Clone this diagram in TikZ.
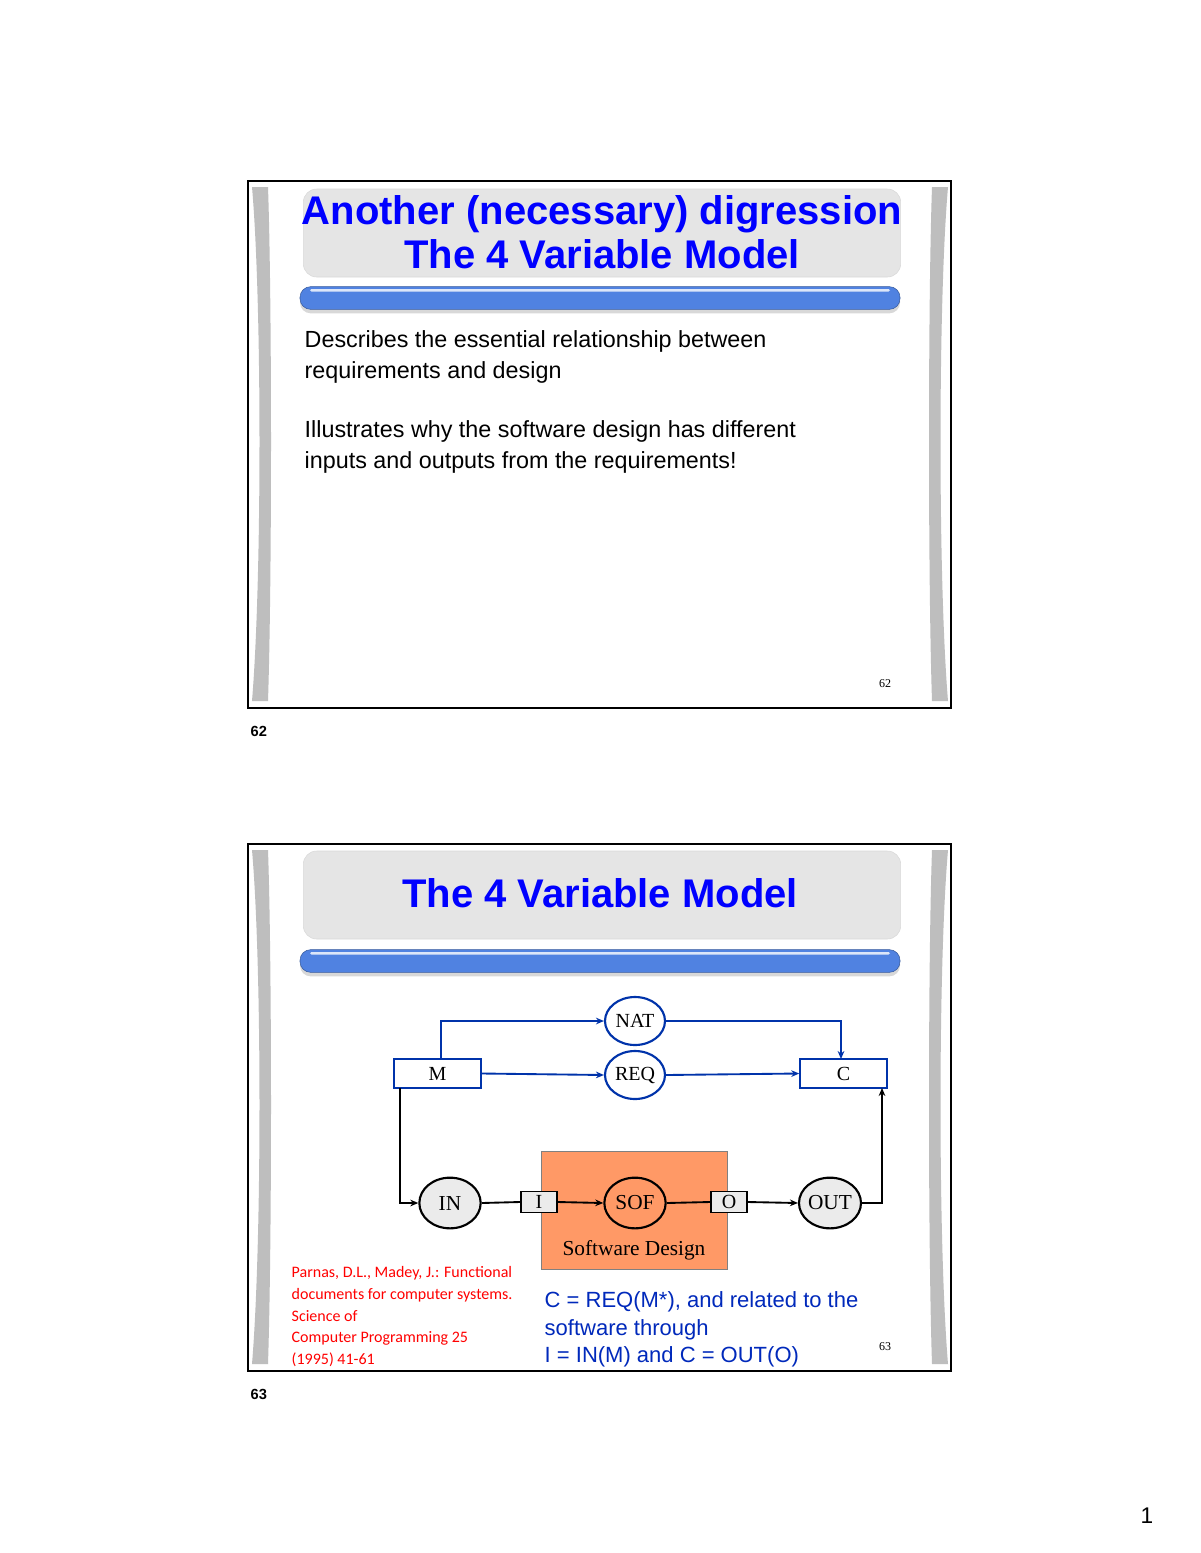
\documentclass[tikz,border=0pt]{standalone}
\usepackage{fontspec}
\setmainfont{Liberation Sans}
\newfontfamily\serifx{Liberation Serif}
\newfontfamily\calib{Carlito}
\usetikzlibrary{arrows.meta,shadows,shapes.geometric}
\definecolor{tblue}{RGB}{0,0,255}
\definecolor{lblue}{RGB}{0,51,170}
\definecolor{barblue}{RGB}{80,130,225}
\definecolor{sidegrey}{RGB}{190,190,190}
\definecolor{orng}{RGB}{255,153,102}
\tikzset{
 frame/.style={draw=black,line width=2.2pt},
 titlebox/.style={fill=black!10,draw=black!15,rounded corners=10pt},
 bar/.style={fill=barblue,draw=barblue!70!black,rounded corners=8pt,drop shadow={opacity=0.3,shadow xshift=0pt,shadow yshift=-3pt}},
 ttl/.style={font=\bfseries\fontsize{30}{33}\selectfont,text=tblue,align=center},
 body/.style={font=\fontsize{17.5}{23}\selectfont,anchor=north west,align=left},
 bbox/.style={draw=lblue,line width=1.4pt,fill=white,minimum width=65pt,minimum height=22pt,font=\serifx\fontsize{15}{15}\selectfont},
 bell/.style={draw=lblue,line width=1.6pt,ellipse,fill=white,minimum width=45pt,minimum height=36pt,inner sep=0pt,font=\serifx\fontsize{15}{15}\selectfont},
 kell/.style={draw=black,line width=1.6pt,ellipse,fill=black!8,minimum width=46pt,minimum height=38pt,inner sep=0pt,font=\serifx\fontsize{16}{16}\selectfont},
 sbox/.style={draw=black,line width=1.2pt,fill=black!8,minimum width=27pt,minimum height=16pt,inner sep=0pt,font=\serifx\fontsize{15}{15}\selectfont},
 bl/.style={lblue,line width=1.4pt},
 bk/.style={black,line width=1.4pt},
 tip/.style={-{Stealth[length=6pt,width=5pt]}},
}
\begin{document}
\begin{tikzpicture}[x=0.75pt,y=-0.75pt]
\useasboundingbox (0,0) rectangle (1200,1553);
\fill[white] (0,0) rectangle (1200,1553);
\foreach \y in {181,844}{
 \fill[sidegrey] (252,\y+6) .. controls (262,\y+120) and (262,\y+400) .. (252,\y+520) -- (268,\y+520) .. controls (272,\y+400) and (272,\y+120) .. (268,\y+6) -- cycle;
 \fill[sidegrey] (948,\y+6) .. controls (938,\y+120) and (938,\y+400) .. (948,\y+520) -- (932,\y+520) .. controls (928,\y+400) and (928,\y+120) .. (932,\y+6) -- cycle;
 \draw[frame] (248,\y) rectangle (951,\y+527);
}
\node[titlebox,minimum width=448pt,minimum height=66pt] (t1box) at (602,233) {};
\node[ttl] (t1) at (602,232) {Another (necessary) digression\\The 4 Variable Model};
\node[bar,minimum width=450pt,minimum height=17pt] (bar1) at (600,298) {};
\fill[white,opacity=0.8,rounded corners=1pt] (310,289) rectangle (890,291.5);
\node[body] (p1) at (300,326) {Describes the essential relationship between\\requirements and design};
\node[body] (p2) at (300,416) {Illustrates why the software design has different\\inputs and outputs from the requirements!};
\node[font=\serifx\fontsize{9}{9}\selectfont] (n62) at (885,684) {62};
\node[font=\bfseries\fontsize{11}{11}\selectfont,anchor=west] (m62) at (246,731) {62};
\node[titlebox,minimum width=448pt,minimum height=66pt] (t2box) at (602,895) {};
\node[ttl] (t2) at (600,893) {The 4 Variable Model};
\node[bar,minimum width=450pt,minimum height=17pt] (bar2) at (600,961) {};
\fill[white,opacity=0.8,rounded corners=1pt] (310,952) rectangle (890,954.5);
\node[fill=orng,draw=black!50,minimum width=139.5pt,minimum height=88.5pt,inner sep=0pt] (sd) at (634,1210) {};
\node[font=\serifx\fontsize{16}{16}\selectfont] (sdl) at (634,1250) {Software Design};
\node[bell] (nat) at (635,1021) {NAT};
\node[bell] (req) at (635,1075) {REQ};
\node[bbox] (m) at (437.5,1073.5) {M};
\node[bbox] (c) at (843.5,1073.5) {C};
\node[kell] (in) at (450,1203) {IN};
\node[kell,fill=orng] (sof) at (635,1203) {SOF};
\node[kell] (out) at (830,1203) {OUT};
\node[sbox] (i) at (539,1202) {I};
\node[sbox] (o) at (729,1202) {O};
\coordinate (mt) at (441,1059);
\coordinate (ct) at (841,1059);
\coordinate (mb) at (400,1088);
\coordinate (cb) at (882,1088);
\draw[bl,tip] (mt) |- (nat.west);
\draw[bl,tip] (nat.east) -| (ct);
\draw[bl,tip] (m.east) -- (req.west);
\draw[bl,tip] (req.east) -- (c.west);
\draw[bk,tip] (mb) |- (in.west);
\draw[bk] (in.east) -- (i.west);
\draw[bk,tip] (i.east) -- (sof.west);
\draw[bk] (sof.east) -- (o.west);
\draw[bk,tip] (o.east) -- (out.west);
\draw[bk,tip] (out.east) -| (cb);
\node[text=red,font=\calib\fontsize{12}{16.2}\selectfont,anchor=north west,align=left] (ref) at (287,1262) {Parnas, D.L., Madey, J.: Functional\\documents for computer systems.\\Science of\\Computer Programming 25\\(1995) 41-61};
\node[text=lblue!80!tblue,font=\fontsize{16.5}{20.5}\selectfont,anchor=north west,align=left] (eq) at (540,1287) {C = REQ(M*), and related to the\\software through\\I = IN(M) and C = OUT(O)};
\node[font=\serifx\fontsize{9}{9}\selectfont] (n63) at (885,1347) {63};
\node[font=\bfseries\fontsize{11}{11}\selectfont,anchor=west] (m63) at (246,1394) {63};
\node[font=\fontsize{17}{17}\selectfont] (pg) at (1147,1516) {1};
\end{tikzpicture}
\end{document}
